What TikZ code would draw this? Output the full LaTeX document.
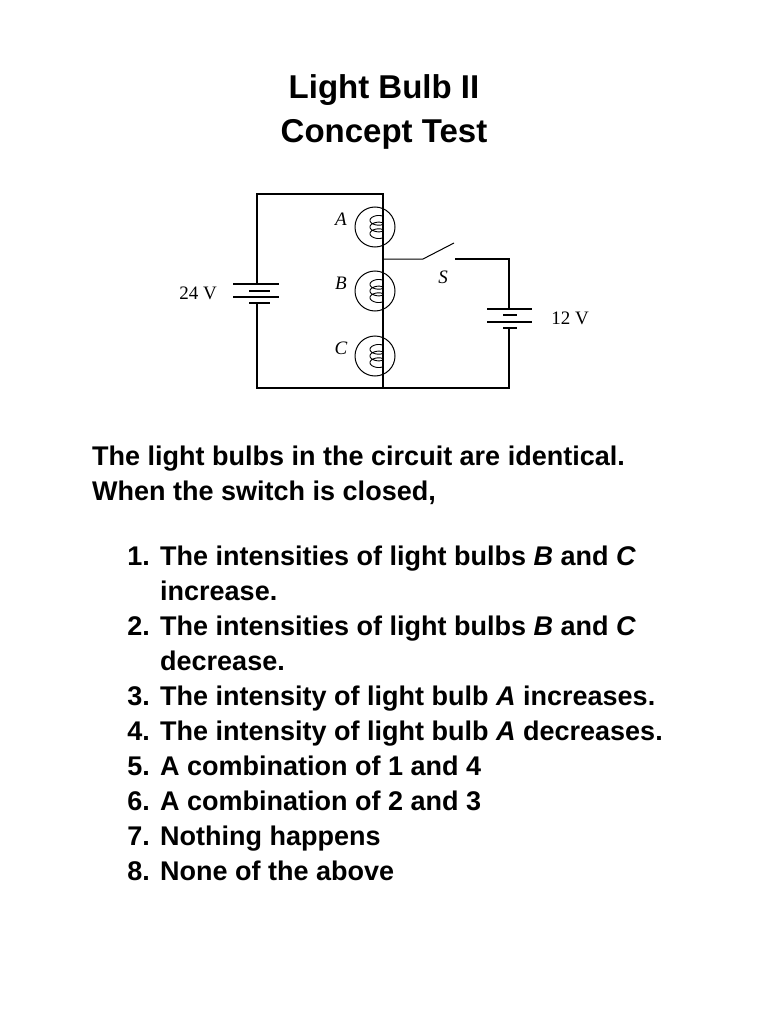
\documentclass[tikz,border=0pt]{standalone}
\usepackage{fontspec}
\setmainfont{Liberation Sans}
\newfontfamily\tms{Liberation Serif}
\begin{document}
\begin{tikzpicture}[x=1pt,y=-1pt,
  wire/.style={line width=1.4pt},
  clab/.style={font=\tms\fontsize{19}{22}\selectfont, inner sep=0},
  ilab/.style={font=\tms\itshape\fontsize{19}{22}\selectfont, inner sep=0},
  body/.style={font=\bfseries\fontsize{27}{30}\selectfont, anchor=base west, inner sep=0},
  num/.style={font=\bfseries\fontsize{27}{30}\selectfont, anchor=base east, inner sep=0}]
\useasboundingbox[fill=white] (0,0) rectangle (768,1024);
\node[font=\bfseries\fontsize{33}{36}\selectfont, inner sep=0, anchor=base] (t1) at (384,99) {Light Bulb II};
\node[font=\bfseries\fontsize{33}{36}\selectfont, inner sep=0, anchor=base] (t2) at (384,143) {Concept Test};
% coordinates
\coordinate (tl) at (257,194); \coordinate (tm) at (383,194);
\coordinate (bl) at (257,388); \coordinate (bm) at (383,388); \coordinate (br) at (509,388);
\coordinate (j) at (383,259); \coordinate (s1) at (423,259); \coordinate (s2) at (454,243);
\coordinate (s3) at (455,259); \coordinate (tr) at (509,259);
\coordinate (b24t) at (257,284); \coordinate (b24b) at (257,303);
\coordinate (b12t) at (509,309); \coordinate (b12b) at (509,328);
\draw[wire] (b24t) -- (tl) -- (tm) -- (bm) -- (bl) -- (b24b);
\draw[wire] (bm) -- (br) -- (b12b);
\draw[wire] (b12t) -- (tr) -- (s3);
\draw[line width=1pt] (j) -- (s1) -- (s2);
% batteries
\draw[wire] (233,284) -- (279,284) (249,291) -- (270,291) (233,297) -- (279,297) (249,303) -- (270,303);
\draw[wire] (487,309) -- (532,309) (503,315) -- (517,315) (487,322) -- (532,322) (503,328) -- (517,328);
% bulbs
\foreach \n/\yc/\l in {A/227/A, B/291/B, C/356/C}{
  \draw[line width=1pt] (375,\yc) circle (20);
  \draw[line width=0.9pt, domain=0:1080, samples=150, smooth] plot ({376.5+6.5*cos(\x)}, {\yc-10+\x/54-3*sin(\x)});
  \node[ilab] (lab\n) at (341,\yc-8) {\l};
}
\node[ilab] (labS) at (443,277) {S};
\node[clab] (v24) at (198,293) {24 V};
\node[clab] (v12) at (570,318) {12 V};
% text
\node[body] (p1) at (92,465) {The light bulbs in the circuit are identical.};
\node[body] (p2) at (92,500) {When the switch is closed,};
\foreach \i/\y/\txt in {
 1/565/{The intensities of light bulbs \textit{B} and \textit{C}},
 2/635/{The intensities of light bulbs \textit{B} and \textit{C}},
 3/705/{The intensity of light bulb \textit{A} increases.},
 4/740/{The intensity of light bulb \textit{A} decreases.},
 5/775/{A combination of 1 and 4},
 6/810/{A combination of 2 and 3},
 7/845/{Nothing happens},
 8/880/{None of the above}}{
  \node[num] (n\i) at (150,\y) {\i.};
  \node[body] (i\i) at (160,\y) {\txt};
}
\node[body] (i1b) at (160,600) {increase.};
\node[body] (i2b) at (160,670) {decrease.};
\end{tikzpicture}
\end{document}
